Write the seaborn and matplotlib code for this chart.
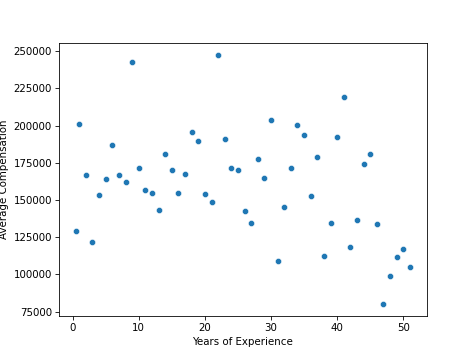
import matplotlib
matplotlib.use("Agg")
import matplotlib.pyplot as plt
import seaborn as sns
import pandas as pd

years = [0.5, 1, 2, 3, 4, 5, 6, 7, 8, 9, 10, 11, 12, 13, 14, 15, 16, 17, 18, 19,
         20, 21, 22, 23, 24, 25, 26, 27, 28, 29, 30, 31, 32, 33, 34, 35, 36, 37,
         38, 39, 40, 41, 42, 43, 44, 45, 46, 47, 48, 49, 50, 51]
compensation = [129200, 201100, 166900, 122100, 153400, 164000, 186800, 166500,
                162400, 242800, 171800, 157000, 154600, 143200, 180800, 170500,
                155000, 167800, 195800, 189700, 154100, 148500, 247500, 191300,
                171400, 170500, 142700, 134600, 177400, 164900, 203900, 108900,
                145600, 171800, 200700, 193800, 153000, 179000, 112200, 134600,
                192700, 219500, 118300, 136700, 173900, 181200, 133700, 80400,
                98800, 111600, 117100, 105100]

df = pd.DataFrame({"Years of Experience": years,
                   "Average Compensation": compensation})

# default 6.4x4.8 figure, rendered small
fig, ax = plt.subplots(figsize=(474 / 74, 355 / 74), dpi=74)
sns.scatterplot(data=df, x="Years of Experience", y="Average Compensation", ax=ax)
fig.savefig("out.png", dpi=74)
